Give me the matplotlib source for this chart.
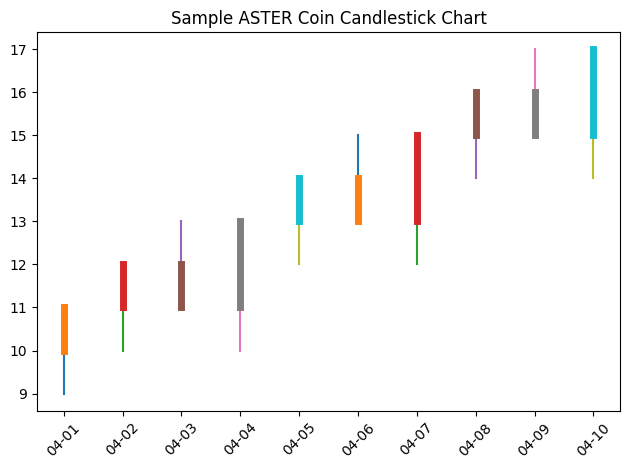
import matplotlib
matplotlib.use('Agg')
import matplotlib.pyplot as plt

# ASTER coin sample prices
dates = ['04-01', '04-02', '04-03', '04-04', '04-05',
         '04-06', '04-07', '04-08', '04-09', '04-10']
opens = [10, 11, 11, 11, 13, 13, 13, 15, 15, 15]
closes = [11, 12, 12, 13, 14, 14, 15, 16, 16, 17]
highs = [11, 12, 13, 13, 14, 15, 15, 16, 17, 17]
lows = [9, 10, 11, 10, 12, 13, 12, 14, 15, 14]

fig, ax = plt.subplots(figsize=(6.3, 4.7), dpi=100)

for i in range(len(dates)):
    # wick then body
    ax.plot([i, i], [lows[i], highs[i]])
    ax.plot([i, i], [opens[i], closes[i]], linewidth=5)

ax.set_xticks(range(len(dates)))
ax.set_xticklabels(dates, rotation=45)
ax.set_title('Sample ASTER Coin Candlestick Chart')

plt.subplots_adjust(left=0.059, right=0.984, top=0.932, bottom=0.126)
plt.savefig('out.png')
